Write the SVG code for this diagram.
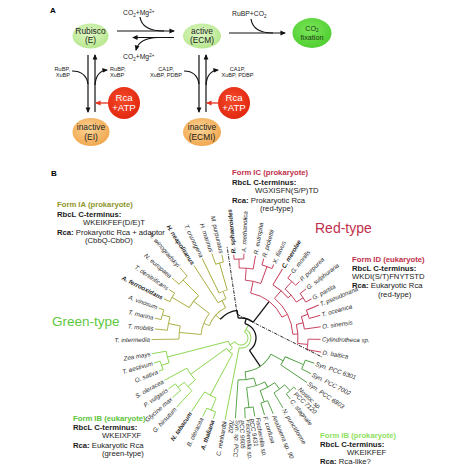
<svg xmlns="http://www.w3.org/2000/svg" width="474" height="474" viewBox="0 0 474 474">
<defs>
<style>
text{font-family:"Liberation Sans",Arial,sans-serif}
.lb{font-size:6.2px;font-style:italic;fill:#2a2a2a}
.b{font-weight:bold}
.e{text-anchor:end}
.m{text-anchor:middle}
.an{font-size:7.7px;fill:#1a1a1a}
.ht{font-size:7.7px;font-weight:bold}
.sm{font-size:5.6px;fill:#222}
.nd{font-size:8.4px;fill:#222;text-anchor:middle}
.wt{font-size:9.6px;fill:#fff;text-anchor:middle}
.o{stroke:#a9ad3e}
.lg{stroke:#8ad650}
.dg{stroke:#4f9f42}
.rd{stroke:#c73a58}
.bk{stroke:#111;stroke-width:1.3}
.ar{stroke:#111;stroke-width:1.2;fill:none}
</style>
<marker id="ah" viewBox="0 0 6 6" refX="5" refY="3" markerWidth="5.5" markerHeight="5.5" orient="auto" markerUnits="userSpaceOnUse"><path d="M0,0.4 L6,3 L0,5.6z" fill="#111"/></marker>
<marker id="ahr" viewBox="0 0 6 6" refX="5" refY="3" markerWidth="5.5" markerHeight="5.5" orient="auto" markerUnits="userSpaceOnUse"><path d="M0,0.4 L6,3 L0,5.6z" fill="#e8321e"/></marker>
<radialGradient id="gl" cx="0.45" cy="0.4" r="0.65"><stop offset="0" stop-color="#e0f8c6"/><stop offset="1" stop-color="#b4e68a"/></radialGradient>
<radialGradient id="go" cx="0.45" cy="0.4" r="0.65"><stop offset="0" stop-color="#fcd596"/><stop offset="1" stop-color="#f0a44a"/></radialGradient>
<radialGradient id="gf" cx="0.45" cy="0.4" r="0.65"><stop offset="0" stop-color="#7be65a"/><stop offset="1" stop-color="#4ccd2e"/></radialGradient>
<radialGradient id="gr" cx="0.45" cy="0.4" r="0.65"><stop offset="0" stop-color="#f44a2a"/><stop offset="1" stop-color="#e0250e"/></radialGradient>
</defs>
<rect width="474" height="474" fill="#fff"/>

<text x="50" y="13" style="font-size:8px;font-weight:bold">A</text>
<text x="51" y="176" style="font-size:8px;font-weight:bold">B</text>

<g id="connectors">
<line class="ar" x1="117" y1="31" x2="174" y2="31" marker-end="url(#ah)"/>
<line class="ar" x1="174" y1="37.5" x2="133" y2="37.5" marker-end="url(#ah)"/>
<path class="ar" d="M140,17 Q142,31 164,31"/>
<path class="ar" d="M158,37.5 Q139,38 136,50" marker-end="url(#ah)"/>
<line class="ar" x1="229" y1="33" x2="285" y2="33" marker-end="url(#ah)"/>
<path class="ar" d="M251,19 Q253,33 273,33"/>
<line class="ar" x1="88" y1="55" x2="88" y2="112" marker-end="url(#ah)"/>
<line class="ar" x1="95" y1="112" x2="95" y2="55" marker-end="url(#ah)"/>
<path class="ar" d="M72,71 Q86,71 88,84"/>
<path class="ar" d="M95,85 Q96,71 107,70" marker-end="url(#ah)"/>
<line x1="108" y1="103" x2="96" y2="103" stroke="#e8321e" stroke-width="1.3" marker-end="url(#ahr)"/>
<line class="ar" x1="199" y1="55" x2="199" y2="112" marker-end="url(#ah)"/>
<line class="ar" x1="206" y1="112" x2="206" y2="55" marker-end="url(#ah)"/>
<path class="ar" d="M184,71 Q197,71 199,84"/>
<path class="ar" d="M206,85 Q207,71 218,70" marker-end="url(#ah)"/>
<line x1="218" y1="103" x2="207" y2="103" stroke="#e8321e" stroke-width="1.3" marker-end="url(#ahr)"/>
</g>

<g id="labelsA">
<text x="123" y="15" style="font-size:6.8px;fill:#222">CO<tspan dy="1.5" style="font-size:4.5px">2</tspan><tspan dy="-1.5">+Mg</tspan><tspan dy="-2.5" style="font-size:4.5px">2+</tspan></text>
<text x="123" y="59" style="font-size:6.8px;fill:#222">CO<tspan dy="1.5" style="font-size:4.5px">2</tspan><tspan dy="-1.5">+Mg</tspan><tspan dy="-2.5" style="font-size:4.5px">2+</tspan></text>
<text x="232" y="16" style="font-size:6.8px;fill:#222">RuBP+CO<tspan dy="1.5" style="font-size:4.5px">2</tspan></text>
<text class="sm e" x="70" y="71">RuBP,</text><text class="sm e" x="70" y="77">XuBP</text>
<text class="sm" x="110" y="71">RuBP,</text><text class="sm" x="110" y="77">XuBP</text>
<text class="sm m" x="166" y="71">CA1P,</text><text class="sm m" x="166" y="77">XuBP, PDBP</text>
<text class="sm m" x="237.5" y="71">CA1P,</text><text class="sm m" x="237.5" y="77">XuBP, PDBP</text>
</g>

<g id="node-E"><ellipse cx="90.5" cy="36" rx="18" ry="12.5" fill="url(#gl)"/><text class="nd" x="90.5" y="33.5">Rubisco</text><text class="nd" x="90.5" y="42.5">(E)</text></g>
<g id="node-ECM"><ellipse cx="202" cy="36" rx="19" ry="12.5" fill="url(#gl)"/><text class="nd" x="202" y="33.5">active</text><text class="nd" x="202" y="42.5">(ECM)</text></g>
<g id="node-fix"><ellipse cx="312" cy="33" rx="19.5" ry="15" fill="url(#gf)"/><text x="312" y="30.5" style="font-size:7.2px;fill:#1a3a10;text-anchor:middle">CO<tspan dy="1.3" style="font-size:4.8px">2</tspan></text><text x="312" y="39.5" style="font-size:7.2px;fill:#1a3a10;text-anchor:middle">fixation</text></g>
<g id="node-EI"><ellipse cx="91" cy="132" rx="18.5" ry="14" fill="url(#go)"/><text class="nd" x="91" y="129.5">inactive</text><text class="nd" x="91" y="139.5">(EI)</text></g>
<g id="node-ECMI"><ellipse cx="202" cy="132" rx="19" ry="14" fill="url(#go)"/><text class="nd" x="202" y="129.5">inactive</text><text class="nd" x="202" y="139.5">(ECMI)</text></g>
<g id="node-Rca1"><circle cx="124" cy="103" r="16" fill="url(#gr)"/><text class="wt" x="124" y="100.5">Rca</text><text class="wt" x="124" y="110.5">+ATP</text></g>
<g id="node-Rca2"><circle cx="234" cy="103" r="16" fill="url(#gr)"/><text class="wt" x="234" y="100.5">Rca</text><text class="wt" x="234" y="110.5">+ATP</text></g>

<g id="tree" transform="translate(241,338)" fill="none" stroke-width="0.9">
<g class="o">
<line x1="28" x2="34" transform="rotate(222.2)"/><line x1="34" x2="42" transform="rotate(243)"/><line x1="42" x2="50" transform="rotate(249)"/><line x1="50" x2="78" transform="rotate(254)"/><line x1="78" x2="85.5" transform="rotate(257)"/><line x1="78" x2="89.5" transform="rotate(251)"/><line x1="50" x2="88.5" transform="rotate(244)"/><line x1="42" x2="86.5" transform="rotate(237)"/><line x1="34" x2="40" transform="rotate(201.4)"/><line x1="40" x2="60" transform="rotate(217.75)"/><line x1="60" x2="82" transform="rotate(225)"/><line x1="82" x2="93.5" transform="rotate(229)"/><line x1="82" x2="91.5" transform="rotate(221)"/><line x1="60" x2="80" transform="rotate(210.5)"/><line x1="80" x2="86.5" transform="rotate(214)"/><line x1="80" x2="86.5" transform="rotate(207)"/><line x1="40" x2="62" transform="rotate(185.1)"/><line x1="62" x2="89.5" transform="rotate(179)"/><line x1="62" x2="74" transform="rotate(191.25)"/><line x1="74" x2="86.5" transform="rotate(186)"/><line x1="74" x2="82" transform="rotate(196.5)"/><line x1="82" x2="87.5" transform="rotate(200)"/><line x1="82" x2="88.5" transform="rotate(193)"/>
<circle r="34" pathLength="360" stroke-dasharray="41.6 400" transform="rotate(201.4)"/><circle r="42" pathLength="360" stroke-dasharray="12 400" transform="rotate(237)"/><circle r="50" pathLength="360" stroke-dasharray="10 400" transform="rotate(244)"/><circle r="78" pathLength="360" stroke-dasharray="6 400" transform="rotate(251)"/><circle r="40" pathLength="360" stroke-dasharray="32.65 400" transform="rotate(185.1)"/><circle r="60" pathLength="360" stroke-dasharray="14.5 400" transform="rotate(210.5)"/><circle r="82" pathLength="360" stroke-dasharray="8 400" transform="rotate(221)"/><circle r="80" pathLength="360" stroke-dasharray="7 400" transform="rotate(207)"/><circle r="62" pathLength="360" stroke-dasharray="12.25 400" transform="rotate(179)"/><circle r="74" pathLength="360" stroke-dasharray="10.5 400" transform="rotate(186)"/><circle r="82" pathLength="360" stroke-dasharray="7 400" transform="rotate(193)"/>
</g>
<g class="lg">
<line x1="10" x2="83.5" transform="rotate(101)"/><line x1="7" x2="13" transform="rotate(148.4)"/><line x1="13" x2="76" transform="rotate(165.5)"/><line x1="76" x2="90.5" transform="rotate(170)"/><line x1="76" x2="84" transform="rotate(161)"/><line x1="84" x2="90.5" transform="rotate(164)"/><line x1="84" x2="88.5" transform="rotate(158)"/><line x1="13" x2="18" transform="rotate(131.25)"/><line x1="18" x2="62" transform="rotate(144.25)"/><line x1="62" x2="87.5" transform="rotate(151)"/><line x1="62" x2="72" transform="rotate(137.5)"/><line x1="72" x2="94.5" transform="rotate(133)"/><line x1="72" x2="80" transform="rotate(142)"/><line x1="80" x2="88.5" transform="rotate(145)"/><line x1="80" x2="90.5" transform="rotate(139)"/><line x1="18" x2="65" transform="rotate(118.25)"/><line x1="65" x2="88.5" transform="rotate(124)"/><line x1="65" x2="78" transform="rotate(112.5)"/><line x1="78" x2="87.5" transform="rotate(116)"/><line x1="78" x2="85.5" transform="rotate(109)"/><line x1="7" x2="15" transform="rotate(300)"/>
<circle r="10" pathLength="360" stroke-dasharray="161 400" transform="rotate(300)"/><circle r="7" pathLength="360" stroke-dasharray="208.4 400" transform="rotate(300)"/><circle r="13" pathLength="360" stroke-dasharray="34.25 400" transform="rotate(131.25)"/><circle r="76" pathLength="360" stroke-dasharray="9 400" transform="rotate(161)"/><circle r="84" pathLength="360" stroke-dasharray="6 400" transform="rotate(158)"/><circle r="18" pathLength="360" stroke-dasharray="26 400" transform="rotate(118.25)"/><circle r="62" pathLength="360" stroke-dasharray="13.5 400" transform="rotate(137.5)"/><circle r="72" pathLength="360" stroke-dasharray="9 400" transform="rotate(133)"/><circle r="80" pathLength="360" stroke-dasharray="6 400" transform="rotate(139)"/><circle r="65" pathLength="360" stroke-dasharray="11.5 400" transform="rotate(112.5)"/><circle r="78" pathLength="360" stroke-dasharray="7 400" transform="rotate(109)"/>
</g>
<g class="dg">
<line x1="34" x2="48" transform="rotate(28.5)"/><line x1="48" x2="79.5" transform="rotate(34)"/><line x1="48" x2="68" transform="rotate(23)"/><line x1="68" x2="77.5" transform="rotate(19)"/><line x1="68" x2="78.5" transform="rotate(27)"/><line x1="34" x2="42" transform="rotate(83.1)"/><line x1="42" x2="80.5" transform="rotate(94)"/><line x1="42" x2="50" transform="rotate(72.25)"/><line x1="50" x2="70" transform="rotate(83.5)"/><line x1="70" x2="80.5" transform="rotate(87)"/><line x1="70" x2="79.5" transform="rotate(80)"/><line x1="50" x2="56" transform="rotate(61.5)"/><line x1="56" x2="68" transform="rotate(70)"/><line x1="68" x2="80.5" transform="rotate(73)"/><line x1="68" x2="82.5" transform="rotate(67)"/><line x1="56" x2="64" transform="rotate(53)"/><line x1="64" x2="81.5" transform="rotate(59)"/><line x1="64" x2="72" transform="rotate(47)"/><line x1="72" x2="78.5" transform="rotate(51)"/><line x1="72" x2="75.5" transform="rotate(43)"/>
<circle r="34" pathLength="360" stroke-dasharray="54.6 400" transform="rotate(28.5)"/><circle r="48" pathLength="360" stroke-dasharray="11 400" transform="rotate(23)"/><circle r="68" pathLength="360" stroke-dasharray="8 400" transform="rotate(19)"/><circle r="42" pathLength="360" stroke-dasharray="21.75 400" transform="rotate(72.25)"/><circle r="50" pathLength="360" stroke-dasharray="22 400" transform="rotate(61.5)"/><circle r="70" pathLength="360" stroke-dasharray="7 400" transform="rotate(80)"/><circle r="56" pathLength="360" stroke-dasharray="17 400" transform="rotate(53)"/><circle r="68" pathLength="360" stroke-dasharray="6 400" transform="rotate(67)"/><circle r="64" pathLength="360" stroke-dasharray="12 400" transform="rotate(47)"/><circle r="72" pathLength="360" stroke-dasharray="8 400" transform="rotate(43)"/>
</g>
<g class="rd">
<line x1="46" x2="58" transform="rotate(-77.9)"/><line x1="58" x2="70" transform="rotate(-85.75)"/><line x1="70" x2="83.5" transform="rotate(-80)"/><line x1="70" x2="79" transform="rotate(-91.5)"/><line x1="79" x2="83.5" transform="rotate(-95)"/><line x1="79" x2="84.5" transform="rotate(-88)"/><line x1="58" x2="76" transform="rotate(-70)"/><line x1="76" x2="82.5" transform="rotate(-74)"/><line x1="76" x2="80.5" transform="rotate(-66)"/><line x1="46" x2="52" transform="rotate(-26.9)"/><line x1="52" x2="62" transform="rotate(-49.75)"/><line x1="62" x2="80.5" transform="rotate(-59)"/><line x1="62" x2="66" transform="rotate(-40.5)"/><line x1="66" x2="76" transform="rotate(-48)"/><line x1="76" x2="81.5" transform="rotate(-52)"/><line x1="76" x2="81.5" transform="rotate(-44)"/><line x1="66" x2="74" transform="rotate(-33)"/><line x1="74" x2="81.5" transform="rotate(-37)"/><line x1="74" x2="80.5" transform="rotate(-29)"/><line x1="52" x2="57" transform="rotate(-4.1)"/><line x1="57" x2="64" transform="rotate(-13.75)"/><line x1="64" x2="80.5" transform="rotate(-8)"/><line x1="64" x2="71" transform="rotate(-19.5)"/><line x1="71" x2="84.5" transform="rotate(-23)"/><line x1="71" x2="82.5" transform="rotate(-16)"/><line x1="57" x2="67" transform="rotate(5.5)"/><line x1="67" x2="79.5" transform="rotate(1)"/><line x1="67" x2="81.5" transform="rotate(10)"/>
<circle r="46" pathLength="360" stroke-dasharray="51 400" transform="rotate(-77.9)"/><circle r="58" pathLength="360" stroke-dasharray="15.75 400" transform="rotate(-85.75)"/><circle r="70" pathLength="360" stroke-dasharray="11.5 400" transform="rotate(-91.5)"/><circle r="79" pathLength="360" stroke-dasharray="7 400" transform="rotate(-95)"/><circle r="76" pathLength="360" stroke-dasharray="8 400" transform="rotate(-74)"/><circle r="52" pathLength="360" stroke-dasharray="45.65 400" transform="rotate(-49.75)"/><circle r="62" pathLength="360" stroke-dasharray="18.5 400" transform="rotate(-59)"/><circle r="66" pathLength="360" stroke-dasharray="15 400" transform="rotate(-48)"/><circle r="76" pathLength="360" stroke-dasharray="8 400" transform="rotate(-52)"/><circle r="74" pathLength="360" stroke-dasharray="8 400" transform="rotate(-37)"/><circle r="57" pathLength="360" stroke-dasharray="19.25 400" transform="rotate(-13.75)"/><circle r="64" pathLength="360" stroke-dasharray="11.5 400" transform="rotate(-19.5)"/><circle r="71" pathLength="360" stroke-dasharray="7 400" transform="rotate(-23)"/><circle r="67" pathLength="360" stroke-dasharray="9 400" transform="rotate(1)"/>
</g>
<g class="bk">
<line x1="20" x2="28" transform="rotate(262)"/><line x1="20" x2="46" transform="rotate(-52.4)"/><line x1="15" x2="20" transform="rotate(285)"/><line x1="15" x2="34" transform="rotate(55.8)"/>
<circle r="28" pathLength="360" stroke-dasharray="39.8 400" transform="rotate(222.2)"/><circle r="20" pathLength="360" stroke-dasharray="45.6 400" transform="rotate(262)"/><circle r="15" pathLength="360" stroke-dasharray="131 400" transform="rotate(285)"/>
</g>
</g>
<path d="M237.2,314.3 L227,246 M237.2,314.3 L322,357" fill="none" stroke="#111" stroke-width="0.9" stroke-dasharray="3.5 1.2 1 1.2"/>

<g id="leaves" transform="translate(241,338)">
<text class="lb e" transform="rotate(77) translate(-87,2.1)">M. purpuratus</text>
<text class="lb e" transform="rotate(71) translate(-91,2.1)">H. marinus</text>
<text class="lb e" transform="rotate(64) translate(-90,2.1)">T. crunogena</text>
<text class="lb e b" transform="rotate(57) translate(-88,2.1)">H. neapolitanus</text>
<text class="lb e" transform="rotate(49) translate(-95,2.1)">N. winogradskyi</text>
<text class="lb e" transform="rotate(41) translate(-93,2.1)">N. europaea</text>
<text class="lb e" transform="rotate(34) translate(-88,2.1)">T. denitrificans</text>
<text class="lb e b" transform="rotate(27) translate(-88,2.1)">A. ferrooxidans</text>
<text class="lb e" transform="rotate(20) translate(-89,2.1)">A. vinosum</text>
<text class="lb e" transform="rotate(13) translate(-90,2.1)">T. marina</text>
<text class="lb e" transform="rotate(6) translate(-88,2.1)">T. mobilis</text>
<text class="lb e" transform="rotate(-1) translate(-91,2.1)">T. intermedia</text>
<text class="lb e" transform="rotate(-10) translate(-92,2.1)">Zea mays</text>
<text class="lb e" transform="rotate(-16) translate(-92,2.1)">T. aestivum</text>
<text class="lb e" transform="rotate(-22) translate(-90,2.1)">O. sativa</text>
<text class="lb e" transform="rotate(-29) translate(-89,2.1)">S. oleracea</text>
<text class="lb e" transform="rotate(-35) translate(-90,2.1)">P. vulgaris</text>
<text class="lb e" transform="rotate(-41) translate(-92,2.1)">Glycine max</text>
<text class="lb e" transform="rotate(-47) translate(-96,2.1)">G. hirsutum</text>
<text class="lb e b" transform="rotate(-56) translate(-90,2.1)">N. tabacum</text>
<text class="lb e" transform="rotate(-64) translate(-89,2.1)">B. oleracea</text>
<text class="lb e b" transform="rotate(-71) translate(-87,2.1)">A. thaliana</text>
<text class="lb e" transform="rotate(-79) translate(-85,2.1)">C. reinhardtii</text>
<text class="lb" transform="rotate(94) translate(82,0)"><tspan x="0" y="-0.6">Syn. sp. PCC</tspan><tspan x="0" y="5.8">7002</tspan></text>
<text class="lb" transform="rotate(87) translate(82,0)"><tspan x="0" y="-0.6">Fischerella sp.</tspan><tspan x="0" y="5.8">PCC 9605</tspan></text>
<text class="lb" transform="rotate(80) translate(81,0)"><tspan x="0" y="-0.6">Fischerella sp.</tspan><tspan x="0" y="5.8">PCC 9431</tspan></text>
<text class="lb" transform="rotate(73) translate(82,2.1)">F. confusa</text>
<text class="lb" transform="rotate(67) translate(84,2.1)">Anabaena sp. 90</text>
<text class="lb" transform="rotate(59) translate(83,2.1)">N. punctiforme</text>
<text class="lb" transform="rotate(51) translate(80,2.1)">C. stagnale</text>
<text class="lb" transform="rotate(43) translate(77,0)"><tspan x="0" y="-0.6">Nostoc sp.</tspan><tspan x="0" y="5.8">PCC 7120</tspan></text>
<text class="lb" transform="rotate(34) translate(81,2.1)">Syn. PCC 6803</text>
<text class="lb" transform="rotate(27) translate(80,2.1)">Syn. PCC 7002</text>
<text class="lb" transform="rotate(19) translate(79,2.1)">Syn. PCC 6301</text>
<text class="lb" transform="rotate(10) translate(83,2.1)">D. baltica</text>
<text class="lb" transform="rotate(1) translate(81,2.1)">Cylindrotheca sp.</text>
<text class="lb" transform="rotate(-8) translate(82,2.1)">O. sinensis</text>
<text class="lb" transform="rotate(-16) translate(84,2.1)">T. oceanica</text>
<text class="lb" transform="rotate(-23) translate(86,2.1)">T. pseudonana</text>
<text class="lb" transform="rotate(-29) translate(82,2.1)">G. partita</text>
<text class="lb" transform="rotate(-37) translate(83,2.1)">G. sulphuraria</text>
<text class="lb" transform="rotate(-44) translate(83,2.1)">P. purpurea</text>
<text class="lb" transform="rotate(-52) translate(83,2.1)">G. monilis</text>
<text class="lb b" transform="rotate(-59) translate(82,2.1)">C. merolae</text>
<text class="lb" transform="rotate(-66) translate(82,2.1)">X. flavus</text>
<text class="lb" transform="rotate(-74) translate(84,2.1)">R. pickettii</text>
<text class="lb" transform="rotate(-80) translate(85,2.1)">R. eutropha</text>
<text class="lb" transform="rotate(-88) translate(86,2.1)">A. methanolica</text>
<text class="lb b" transform="rotate(-95) translate(85,2.1)">R. sphaeroides</text>
</g>

<g id="annotations">
<text class="ht" x="57" y="207" fill="#8d9628">Form IA (prokaryote)</text>
<text class="an ht" x="57" y="216.5">RbcL C-terminus:</text>
<text class="an" x="83" y="225">WKEIKFEF(D/E)T</text>
<text class="an" x="57" y="234.5"><tspan font-weight="bold">Rca:</tspan> Prokaryotic Rca + adaptor</text>
<text class="an" x="85" y="243">(CbbQ-CbbO)</text>

<text class="ht" x="232" y="175" fill="#c0304a">Form IC (prokaryote)</text>
<text class="an ht" x="232" y="184.5">RbcL C-terminus:</text>
<text class="an" x="255" y="193">WGXISFN(S/P)TD</text>
<text class="an" x="232" y="202.5"><tspan font-weight="bold">Rca:</tspan> Prokaryotic Rca</text>
<text class="an" x="260" y="211">(red-type)</text>

<text x="315" y="232.5" style="font-size:14px;fill:#c0304a">Red-type</text>

<text class="ht" x="352" y="262" fill="#c0304a">Form ID (eukaryote)</text>
<text class="an ht" x="352" y="270.5">RbcL C-terminus:</text>
<text class="an" x="352" y="279">WKDI(S/T)FNYTSTD</text>
<text class="an" x="352" y="288"><tspan font-weight="bold">Rca:</tspan> Eukaryotic Rca</text>
<text class="an" x="378" y="297">(red-type)</text>

<text x="52" y="325.5" style="font-size:13.5px;fill:#5dc83c">Green-type</text>

<text class="ht" x="73" y="420.5" fill="#5cc43a">Form IB (eukaryote)</text>
<text class="an ht" x="73" y="429.5">RbcL C-terminus:</text>
<text class="an" x="102" y="438">WKEIXFXF</text>
<text class="an" x="73" y="447.5"><tspan font-weight="bold">Rca:</tspan> Eukaryotic Rca</text>
<text class="an" x="102" y="456">(green-type)</text>

<text class="ht" x="320" y="437.5" fill="#8fe060">Form IB (prokaryote)</text>
<text class="an ht" x="320" y="446.5">RbcL C-terminus:</text>
<text class="an" x="347" y="455">WKEIKFEF</text>
<text class="an" x="320" y="464"><tspan font-weight="bold">Rca:</tspan> Rca-like?</text>
</g>
</svg>
